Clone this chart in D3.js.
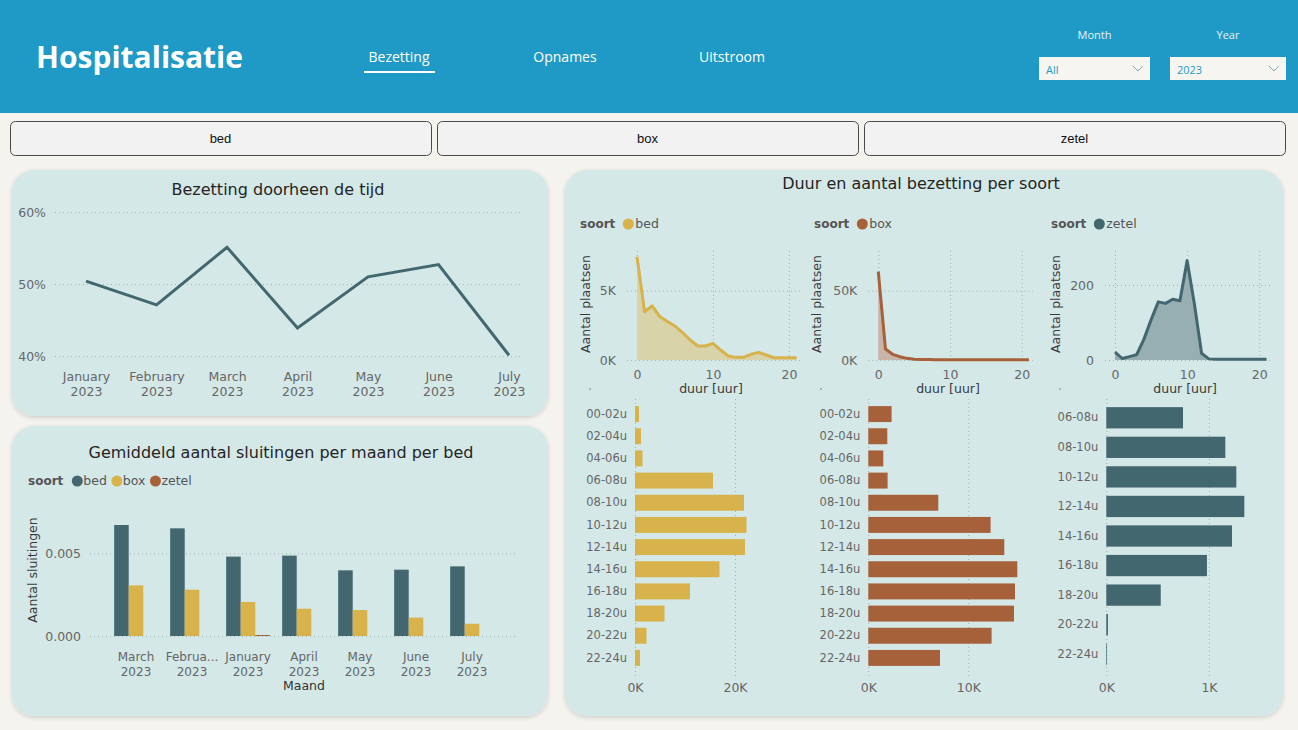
<!DOCTYPE html>
<html><head><meta charset="utf-8">
<script src="https://cdn.jsdelivr.net/npm/d3@7/dist/d3.min.js"></script>
<style>html,body{margin:0;padding:0;background:#F5F3EE;}svg{display:block}</style>
</head><body>
<svg id="c" width="1298" height="730"></svg>
<script>
// ---------------- data ----------------
const pageTitle = "Hospitalisatie";
const navItems = ["Bezetting", "Opnames", "Uitstroom"];
const buttons = ["bed", "box", "zetel"];
const soorten = ["bed", "box", "zetel"];

const months = ["January 2023", "February 2023", "March 2023", "April 2023", "May 2023", "June 2023", "July 2023"];
const bezetting = [50.4, 47.1, 55.1, 43.9, 51.0, 52.7, 40.1];
const bezettingTicks = [40, 50, 60];

const sluitMonths = ["March 2023", "February 2023", "January 2023", "April 2023", "May 2023", "June 2023", "July 2023"];
const sluitBed = [0.00671, 0.00651, 0.00480, 0.00486, 0.00397, 0.00401, 0.00421];
const sluitBox = [0.00306, 0.00280, 0.00206, 0.00165, 0.00157, 0.00111, 0.00074];
const sluitZetel = [0, 0, 0.00006, 0, 0, 0, 0];
const sluitTicks = [0, 0.005];

const duur = [0, 1, 2, 3, 4, 5, 6, 7, 8, 9, 10, 11, 12, 13, 14, 15, 16, 17, 18, 19, 20, 21];
const duurBed = [7450, 3480, 3900, 3130, 2770, 2450, 1970, 1440, 1010, 1010, 1200, 720, 290, 190, 190, 410, 550, 360, 170, 170, 170, 170];
const duurBox = [63700, 7940, 4100, 2400, 1200, 600, 400, 300, 200, 150, 120, 100, 100, 100, 100, 100, 100, 100, 100, 100, 100, 100];
const duurZetel = [21, 4, 9, 14, 55, 107, 155, 151, 162, 158, 265, 150, 18, 3, 2, 2, 2, 2, 2, 2, 2, 2];
const duurXTicks = [0, 10, 20];

const slots = ["00-02u", "02-04u", "04-06u", "06-08u", "08-10u", "10-12u", "12-14u", "14-16u", "16-18u", "18-20u", "20-22u", "22-24u"];
const slotsZetel = ["06-08u", "08-10u", "10-12u", "12-14u", "14-16u", "16-18u", "18-20u", "20-22u", "22-24u"];
const aantalBed = [800, 1200, 1500, 15600, 21800, 22300, 22000, 16900, 11000, 5900, 2300, 1000];
const aantalBox = [2330, 1900, 1500, 1930, 7000, 12230, 13600, 14900, 14670, 14570, 12330, 7170];
const aantalZetel = [747, 1159, 1266, 1344, 1224, 980, 530, 16, 7];

// ---------------- styles ----------------
const F = "DejaVu Sans";
const UI = "Open Sans";
const C = {
  header: "#1F9AC6", panel: "#D4E8E8", title: "#252423", tick: "#666", axisTitle: "#3a3a3a",
  grid: "#A3B1B2", teal: "#43676F", yellow: "#D8B24B", brown: "#A6613A"
};
const leftColors = { bed: C.teal, box: C.yellow, zetel: C.brown };

const svg = d3.select("#c");
const defs = svg.append("defs");
defs.append("filter").attr("id", "sh").attr("x", "-5%").attr("y", "-5%").attr("width", "110%").attr("height", "112%")
  .append("feDropShadow").attr("dx", 0).attr("dy", 1.5).attr("stdDeviation", 2.2)
  .attr("flood-color", "#000").attr("flood-opacity", 0.16);

function txt(g, x, y, s, o = {}) {
  return g.append("text").attr("x", x).attr("y", y).text(s)
    .attr("font-family", o.family || F).attr("font-size", o.size || 12)
    .attr("font-weight", o.weight || 400).attr("fill", o.fill || C.tick)
    .attr("text-anchor", o.anchor || "start");
}
function styleAxis(a, size) {
  a.attr("font-family", F).attr("font-size", size || 12);
  a.select(".domain").remove();
  a.selectAll(".tick line").attr("stroke", C.grid).attr("stroke-dasharray", "1 3").attr("stroke-width", 1);
  a.selectAll(".tick text").attr("fill", C.tick);
}
function twoLine(a, lh) {
  a.selectAll(".tick text").each(function (d) {
    const t = d3.select(this); const parts = d.split(" ");
    t.text(null);
    parts.forEach((p, i) => t.append("tspan").attr("x", 0).attr("dy", i ? lh : "0.71em").text(p));
  });
}

// ---------------- header ----------------
svg.append("rect").attr("x", 0).attr("y", 0).attr("width", 1298).attr("height", 113).attr("fill", C.header);
txt(svg, 36, 68, pageTitle, { family: UI, size: 30, weight: 700, fill: "#fff" });
const navX = [399, 565, 732];
navItems.forEach((n, i) => txt(svg, navX[i], 62, n, { family: UI, size: 14, fill: "#fff", anchor: "middle" }));
svg.append("rect").attr("x", 364).attr("y", 71).attr("width", 71).attr("height", 2).attr("fill", "#fff");

const drops = [{ label: "Month", val: "All", x: 1039, w: 111 }, { label: "Year", val: "2023", x: 1170, w: 116 }];
drops.forEach(d => {
  txt(svg, d.x + d.w / 2, 39, d.label, { family: UI, size: 11, fill: "#E6F3F8", anchor: "middle" });
  svg.append("rect").attr("x", d.x).attr("y", 57).attr("width", d.w).attr("height", 23).attr("fill", "#F7F5F0");
  txt(svg, d.x + 7, 74, d.val, { family: UI, size: 11, fill: C.header });
  const cx = d.x + d.w - 12;
  svg.append("path").attr("d", `M${cx - 5},${66} L${cx},${71} L${cx + 5},${66}`)
    .attr("fill", "none").attr("stroke", "#7FA9BD").attr("stroke-width", 1);
});

// ---------------- slicer buttons ----------------
const btnX = [10, 437, 864];
buttons.forEach((b, i) => {
  svg.append("rect").attr("x", btnX[i] + 0.5).attr("y", 121.5).attr("width", 421).attr("height", 34).attr("rx", 5)
    .attr("fill", "#F2F2F2").attr("stroke", "#4a4a4a").attr("stroke-width", 1);
  txt(svg, btnX[i] + 210.5, 143, b, { family: "Liberation Sans", size: 13, fill: "#111", anchor: "middle" });
});

// ---------------- panels ----------------
function panel(x, y, w, h) {
  svg.append("rect").attr("x", x).attr("y", y).attr("width", w).attr("height", h).attr("rx", 22)
    .attr("fill", C.panel).attr("filter", "url(#sh)");
}
panel(12, 170, 536, 246);
panel(12, 426, 536, 290);
panel(565, 170, 718, 546);

// ---------------- line chart ----------------
{
  const g = svg.append("g");
  txt(g, 278, 195, "Bezetting doorheen de tijd", { size: 16, fill: C.title, anchor: "middle" });
  const x = d3.scalePoint().domain(months).range([86, 509]);
  const y = d3.scaleLinear().domain([40, 60]).range([356, 212]);
  const ay = g.append("g").attr("transform", "translate(55,0)")
    .call(d3.axisLeft(y).tickValues(bezettingTicks).tickFormat(d => d + "%").tickSize(-465).tickPadding(9));
  styleAxis(ay, 12.5);
  const ax = g.append("g").attr("transform", "translate(0,356)")
    .call(d3.axisBottom(x).tickSize(0).tickPadding(16));
  styleAxis(ax, 12.5);
  twoLine(ax, "1.22em");
  g.append("path").datum(bezetting)
    .attr("d", d3.line().x((d, i) => x(months[i])).y(d => y(d)))
    .attr("fill", "none").attr("stroke", C.teal).attr("stroke-width", 3).attr("stroke-linejoin", "miter");
}

// ---------------- grouped bar chart ----------------
{
  const g = svg.append("g");
  txt(g, 281, 458, "Gemiddeld aantal sluitingen per maand per bed", { size: 16, fill: C.title, anchor: "middle" });
  // legend
  let lx = 28;
  const s = txt(g, lx, 485, "soort", { size: 12, weight: 700, fill: "#555" });
  lx += s.node().getComputedTextLength();
  soorten.forEach(k => {
    const cx = lx + 14 - (k === "bed" ? 0 : 4);
    g.append("circle").attr("cx", cx).attr("cy", 481).attr("r", 5.5).attr("fill", leftColors[k]);
    const t = txt(g, cx + 6, 485, k, { size: 12.5, fill: "#555" });
    lx = cx + 6 + t.node().getComputedTextLength();
  });
  const x0 = d3.scaleBand().domain(sluitMonths).range([108, 500]).paddingInner(0.22).paddingOuter(0.11);
  const x1 = d3.scaleBand().domain(soorten).range([0, x0.bandwidth()]);
  const y = d3.scaleLinear().domain([0, 0.005]).range([636, 553.3]);
  const ay = g.append("g").attr("transform", "translate(90,0)")
    .call(d3.axisLeft(y).tickValues(sluitTicks).tickFormat(d3.format(".3f")).tickSize(-428).tickPadding(9));
  styleAxis(ay, 12.5);
  const series = { bed: sluitBed, box: sluitBox, zetel: sluitZetel };
  soorten.forEach(k => {
    g.selectAll(null).data(series[k]).join("rect")
      .attr("x", (d, i) => x0(sluitMonths[i]) + x1(k)).attr("width", x1.bandwidth())
      .attr("y", d => y(d)).attr("height", d => y(0) - y(d)).attr("fill", leftColors[k]);
  });
  const ax = g.append("g").attr("transform", "translate(0,636)")
    .call(d3.axisBottom(x0).tickSize(0).tickPadding(16));
  styleAxis(ax, 12);
  twoLine(ax, "1.25em");
  ax.selectAll(".tick text tspan:first-child").each(function () {
    const t = d3.select(this); let s = t.text();
    if (this.getComputedTextLength() > 50) {
      while (s.length > 1) { t.text(s + "..."); if (this.getComputedTextLength() <= 54) break; s = s.slice(0, -1); }
    }
  });
  txt(g, 304, 690, "Maand", { size: 12.5, fill: "#333", anchor: "middle" });
  txt(g, 0, 0, "Aantal sluitingen", { size: 12.5, fill: C.axisTitle, anchor: "middle" })
    .attr("transform", "translate(37,570) rotate(-90)");
}

// ---------------- duur & aantal per soort ----------------
txt(svg, 921, 189, "Duur en aantal bezetting per soort", { size: 16, fill: C.title, anchor: "middle" });
const kFmt = d => (d / 1000) + "K";
const subCharts = [
  { key: "bed", color: C.yellow, fill: "#D9D3AA", dur: duurBed, x0: 637, x1: 796.6, yMax: 7792, yTicks: [0, 5000], yFmt: kFmt,
    legendX: 580, titleX: 590, cats: slots, vals: aantalBed, bx0: 635, bTick: 20000, bTickPx: 100 },
  { key: "box", color: C.brown, fill: "#C9B5A8", dur: duurBox, x0: 878.3, x1: 1028.9, yMax: 77922, yTicks: [0, 50000], yFmt: kFmt,
    legendX: 814, titleX: 821, cats: slots, vals: aantalBox, bx0: 868.3, bTick: 10000, bTickPx: 100 },
  { key: "zetel", color: C.teal, fill: "#97AFB3", dur: duurZetel, x0: 1115, x1: 1266.5, yMax: 288, yTicks: [0, 200], yFmt: d => d,
    legendX: 1051, titleX: 1060, cats: slotsZetel, vals: aantalZetel, bx0: 1106.3, bTick: 1000, bTickPx: 102.7 }
];
subCharts.forEach(c => {
  const g = svg.append("g");
  // legend
  const s = txt(g, c.legendX, 228, "soort", { size: 12, weight: 700, fill: "#555" });
  const cx = c.legendX + s.node().getComputedTextLength() + 13;
  g.append("circle").attr("cx", cx).attr("cy", 224).attr("r", 5.5).attr("fill", c.color);
  txt(g, cx + 7, 228, c.key, { size: 12.5, fill: "#555" });

  // area chart
  const x = d3.scaleLinear().domain([0, 21]).range([c.x0, c.x1]);
  const y = d3.scaleLinear().domain([0, c.yMax]).range([360, 252]);
  const ay = g.append("g").attr("transform", `translate(${c.x0 - 10},0)`)
    .call(d3.axisLeft(y).tickValues(c.yTicks).tickFormat(c.yFmt).tickSize(-(c.x1 - c.x0 + 14)).tickPadding(11));
  styleAxis(ay, 12.5);
  const ax = g.append("g").attr("transform", "translate(0,360)")
    .call(d3.axisBottom(x).tickValues(duurXTicks).tickSize(-110).tickPadding(10));
  styleAxis(ax, 12.5);
  g.append("path").datum(c.dur)
    .attr("d", d3.area().x((d, i) => x(duur[i])).y0(y(0)).y1(d => y(d)))
    .attr("fill", c.fill);
  g.append("path").datum(c.dur)
    .attr("d", d3.line().x((d, i) => x(duur[i])).y(d => y(d)))
    .attr("fill", "none").attr("stroke", c.color).attr("stroke-width", 3).attr("stroke-linejoin", "round");
  txt(g, 0, 0, "Aantal plaatsen", { size: 12.5, fill: C.axisTitle, anchor: "middle" })
    .attr("transform", `translate(${c.titleX},304) rotate(-90)`);
  txt(g, x(10) - 2, 393, "duur [uur]", { size: 12.5, fill: C.axisTitle, anchor: "middle" });
  g.append("circle").attr("cx", c.titleX).attr("cy", 389).attr("r", 0.9).attr("fill", "#999");

  // bar chart
  const bx = d3.scaleLinear().domain([0, c.bTick]).range([c.bx0, c.bx0 + c.bTickPx]);
  const by = d3.scaleBand().domain(c.cats).range([403, 669]).paddingInner(0.28).paddingOuter(0.14);
  const bax = g.append("g").attr("transform", "translate(0,676)")
    .call(d3.axisBottom(bx).tickValues([0, c.bTick]).tickFormat(kFmt).tickSize(-278).tickPadding(7));
  styleAxis(bax, 12.5);
  g.selectAll(null).data(c.vals).join("rect")
    .attr("x", bx(0)).attr("y", (d, i) => by(c.cats[i])).attr("height", by.bandwidth())
    .attr("width", d => bx(d) - bx(0)).attr("fill", c.color);
  const bay = g.append("g").attr("transform", `translate(${c.bx0},0)`)
    .call(d3.axisLeft(by).tickSize(0).tickPadding(8));
  styleAxis(bay, 11.5);
});
</script>
</body></html>
